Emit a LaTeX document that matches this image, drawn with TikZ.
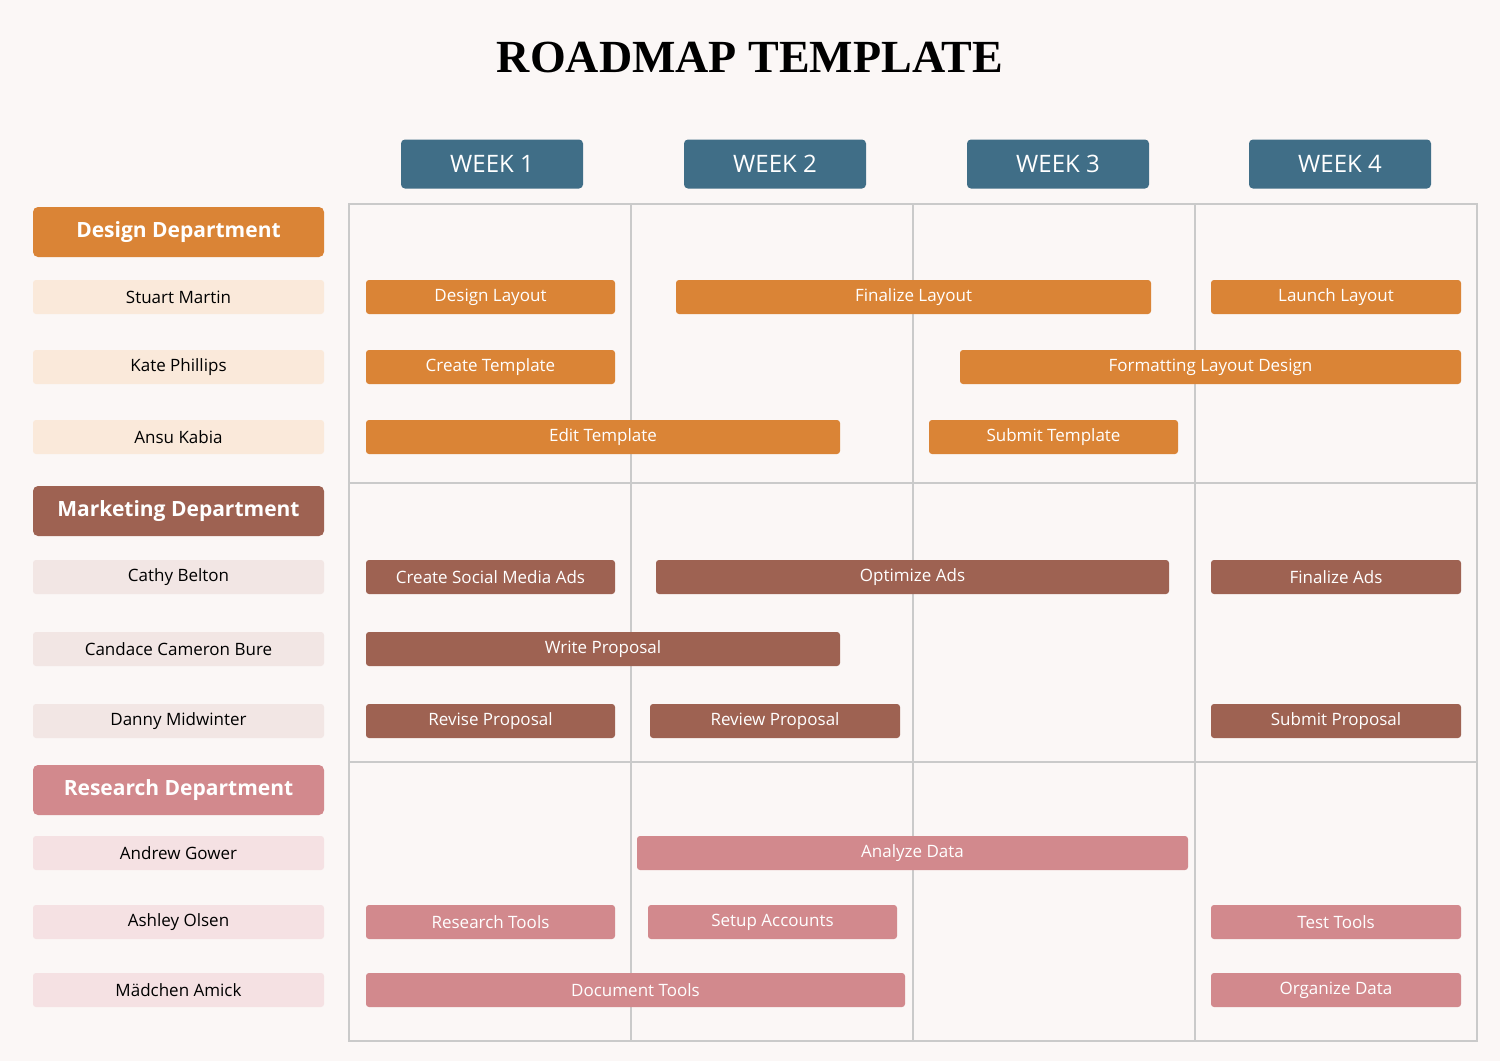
\documentclass[tikz,border=0pt]{standalone}
\usepackage{fontspec}
\setmainfont{Open Sans}
\newfontfamily\titlefont{Liberation Serif}
\definecolor{bg}{HTML}{FBF7F6}
\definecolor{wk}{HTML}{406E87}
\definecolor{cA}{HTML}{DA8436}
\definecolor{cB}{HTML}{9E6252}
\definecolor{cC}{HTML}{D2898D}
\definecolor{lA}{HTML}{FAE9DA}
\definecolor{lB}{HTML}{F2E6E4}
\definecolor{lC}{HTML}{F5E1E3}
\definecolor{gridc}{HTML}{CACACA}
\tikzset{
 week/.style={fill=wk,rounded corners=4pt,minimum width=182pt,minimum height=49pt,text=white,font=\fontsize{24}{26}\selectfont,inner sep=0pt},
 dept/.style={fill=#1,rounded corners=5pt,minimum width=291pt,minimum height=50pt,text=white,font=\fontsize{21}{24}\selectfont\bfseries,inner sep=0pt},
 person/.style={fill=#1,rounded corners=3pt,minimum width=291pt,minimum height=34pt,text=black,font=\fontsize{17}{20}\selectfont,inner sep=0pt},
 bar/.style={fill=#1,rounded corners=3pt,minimum height=34pt,text=white,font=\fontsize{17}{20}\selectfont,inner sep=0pt},
 gline/.style={draw=gridc,line width=1.2pt}
}
\newcommand{\tsk}[6]{\node[bar=#5,minimum width={#2-#1}] (#6) at ({(#1+#2)/2},#3) {#4};}
\begin{document}
\begin{tikzpicture}[x=1pt,y=-1pt]
\fill[bg] (0,0) rectangle (1500,1061);
\useasboundingbox (0,0) rectangle (1500,1061);
\node (title) at (750,57) {\titlefont\fontsize{46}{50}\selectfont\bfseries ROADMAP TEMPLATE};
\node[week] (w1) at (492,164) {WEEK 1};
\node[week] (w2) at (775,164) {WEEK 2};
\node[week] (w3) at (1058,164) {WEEK 3};
\node[week] (w4) at (1340,164) {WEEK 4};
\draw[gline] (349,204) rectangle (1477,1041);
\foreach \x in {631,913,1195} \draw[gline] (\x,204) -- (\x,1041);
\foreach \y in {483,762} \draw[gline] (349,\y) -- (1477,\y);
\node[dept=cA] (dA) at (178.5,232) {Design Department};
\node[dept=cB] (dB) at (178.5,511) {Marketing Department};
\node[dept=cC] (dC) at (178.5,790) {Research Department};
\node[person=lA] (p1) at (178.5,297) {Stuart Martin};
\node[person=lA] (p2) at (178.5,367) {Kate Phillips};
\node[person=lA] (p3) at (178.5,437) {Ansu Kabia};
\node[person=lB] (p4) at (178.5,577) {Cathy Belton};
\node[person=lB] (p5) at (178.5,649) {Candace Cameron Bure};
\node[person=lB] (p6) at (178.5,721) {Danny Midwinter};
\node[person=lC] (p7) at (178.5,853) {Andrew Gower};
\node[person=lC] (p8) at (178.5,922) {Ashley Olsen};
\node[person=lC] (p9) at (178.5,990) {Mädchen Amick};
\tsk{366}{615}{297}{Design Layout}{cA}{t1}
\tsk{676}{1151}{297}{Finalize Layout}{cA}{t2}
\tsk{1211}{1461}{297}{Launch Layout}{cA}{t3}
\tsk{366}{615}{367}{Create Template}{cA}{t4}
\tsk{960}{1461}{367}{Formatting Layout Design}{cA}{t5}
\tsk{366}{840}{437}{Edit Template}{cA}{t6}
\tsk{929}{1178}{437}{Submit Template}{cA}{t7}
\tsk{366}{615}{577}{Create Social Media Ads}{cB}{t8}
\tsk{656}{1169}{577}{Optimize Ads}{cB}{t9}
\tsk{1211}{1461}{577}{Finalize Ads}{cB}{t10}
\tsk{366}{840}{649}{Write Proposal}{cB}{t11}
\tsk{366}{615}{721}{Revise Proposal}{cB}{t12}
\tsk{650}{900}{721}{Review Proposal}{cB}{t13}
\tsk{1211}{1461}{721}{Submit Proposal}{cB}{t14}
\tsk{637}{1188}{853}{Analyze Data}{cC}{t15}
\tsk{366}{615}{922}{Research Tools}{cC}{t16}
\tsk{648}{897}{922}{Setup Accounts}{cC}{t17}
\tsk{1211}{1461}{922}{Test Tools}{cC}{t18}
\tsk{366}{905}{990}{Document Tools}{cC}{t19}
\tsk{1211}{1461}{990}{Organize Data}{cC}{t20}
\end{tikzpicture}
\end{document}
